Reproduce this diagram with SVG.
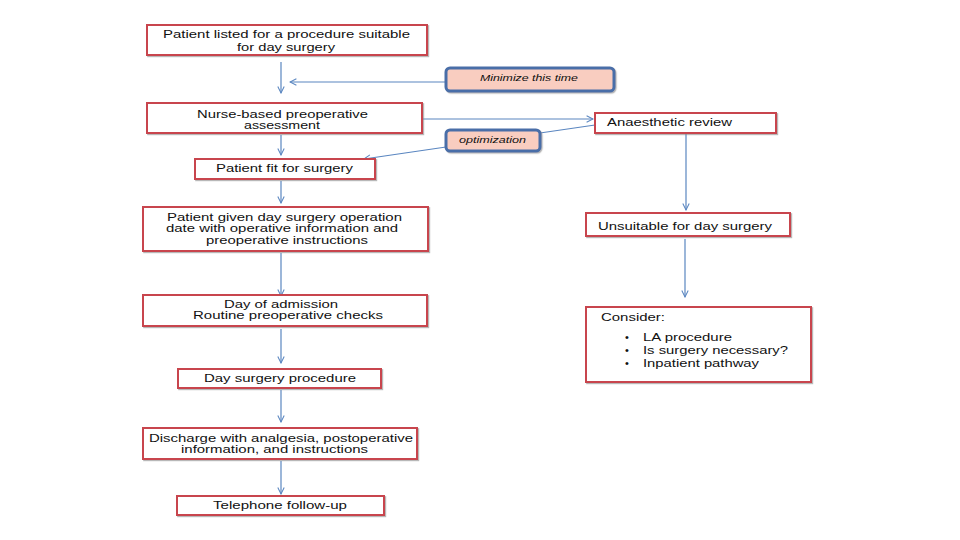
<svg xmlns="http://www.w3.org/2000/svg" width="960" height="540" viewBox="0 0 960 540">
<style>
.box{fill:#fff;stroke:#c8444e;stroke-width:2}
.note{fill:#f9cdc0;stroke:#4a6ea8;stroke-width:3}
.t{font-family:"Liberation Sans",Arial,sans-serif;font-size:11px;fill:#111}
.c{text-anchor:middle}
.i{font-style:italic;font-size:9.5px}
.ln{fill:none;stroke:#5a86c0;stroke-width:1.2}
</style>
<defs>
<marker id="ah" viewBox="0 0 10 10" refX="9" refY="5" markerWidth="8" markerHeight="8" orient="auto" markerUnits="userSpaceOnUse">
<path d="M1,1 L9,5 L1,9" fill="none" stroke="#5a86c0" stroke-width="1.3"/>
</marker>
<filter id="sh" x="-5%" y="-10%" width="110%" height="130%">
<feDropShadow dx="1.2" dy="1.2" stdDeviation="0.6" flood-color="#888" flood-opacity="0.6"/>
</filter>
</defs>
<rect width="960" height="540" fill="#fff"/>
<g id="connectors">
<line class="ln" x1="281" y1="62" x2="281" y2="93" marker-end="url(#ah)"/>
<line class="ln" x1="446" y1="82" x2="290" y2="82" marker-end="url(#ah)"/>
<line class="ln" x1="422" y1="119" x2="593" y2="119" marker-end="url(#ah)"/>
<line class="ln" x1="595" y1="125" x2="540" y2="133"/>
<line class="ln" x1="446" y1="147" x2="364" y2="159" marker-end="url(#ah)"/>
<line class="ln" x1="281" y1="135" x2="281" y2="155" marker-end="url(#ah)"/>
<line class="ln" x1="281" y1="181" x2="281" y2="203" marker-end="url(#ah)"/>
<line class="ln" x1="281" y1="253" x2="281" y2="296" marker-end="url(#ah)"/>
<line class="ln" x1="281" y1="329" x2="281" y2="363" marker-end="url(#ah)"/>
<line class="ln" x1="281" y1="390" x2="281" y2="422" marker-end="url(#ah)"/>
<line class="ln" x1="281" y1="461" x2="281" y2="494" marker-end="url(#ah)"/>
<line class="ln" x1="686" y1="134" x2="686" y2="210" marker-end="url(#ah)"/>
<line class="ln" x1="685" y1="239" x2="685" y2="297" marker-end="url(#ah)"/>
</g>
<g id="n1"><rect class="box" x="147" y="25" width="280" height="30" filter="url(#sh)"/>
<text class="t c" x="286.5" y="38" textLength="247" lengthAdjust="spacingAndGlyphs">Patient listed for a procedure suitable</text>
<text class="t c" x="286" y="51" textLength="98" lengthAdjust="spacingAndGlyphs">for day surgery</text></g>
<g id="minimize"><rect class="note" x="446" y="68" width="168" height="23" rx="4" filter="url(#sh)"/>
<text class="t c i" x="529" y="81" textLength="98" lengthAdjust="spacingAndGlyphs">Minimize this time</text></g>
<g id="n2"><rect class="box" x="147" y="103" width="275" height="30" filter="url(#sh)"/>
<text class="t c" x="282.5" y="118" textLength="171" lengthAdjust="spacingAndGlyphs">Nurse-based preoperative</text>
<text class="t c" x="282" y="129" textLength="76" lengthAdjust="spacingAndGlyphs">assessment</text></g>
<g id="anaesthetic"><rect class="box" x="595" y="113" width="181" height="20" filter="url(#sh)"/>
<text class="t" x="607" y="126" textLength="125" lengthAdjust="spacingAndGlyphs">Anaesthetic review</text></g>
<g id="optimization"><rect class="note" x="446" y="130" width="94" height="21" rx="4" filter="url(#sh)"/>
<text class="t c i" x="492.5" y="143" textLength="67" lengthAdjust="spacingAndGlyphs">optimization</text></g>
<g id="n3"><rect class="box" x="195" y="159" width="180" height="20" filter="url(#sh)"/>
<text class="t c" x="284.5" y="172" textLength="137" lengthAdjust="spacingAndGlyphs">Patient fit for surgery</text></g>
<g id="n4"><rect class="box" x="143" y="207" width="285" height="44" filter="url(#sh)"/>
<text class="t c" x="284.5" y="221" textLength="235" lengthAdjust="spacingAndGlyphs">Patient given day surgery operation</text>
<text class="t c" x="282" y="232" textLength="232" lengthAdjust="spacingAndGlyphs">date with operative information and</text>
<text class="t c" x="287" y="244" textLength="162" lengthAdjust="spacingAndGlyphs">preoperative instructions</text></g>
<g id="n5"><rect class="box" x="143" y="295" width="284" height="31" filter="url(#sh)"/>
<text class="t c" x="281" y="308" textLength="114" lengthAdjust="spacingAndGlyphs">Day of admission</text>
<text class="t c" x="288" y="319" textLength="190" lengthAdjust="spacingAndGlyphs">Routine preoperative checks</text></g>
<g id="n6"><rect class="box" x="178" y="369" width="203" height="19" filter="url(#sh)"/>
<text class="t c" x="280" y="382" textLength="152" lengthAdjust="spacingAndGlyphs">Day surgery procedure</text></g>
<g id="n7"><rect class="box" x="143" y="428" width="274" height="31" filter="url(#sh)"/>
<text class="t c" x="281" y="442" textLength="264" lengthAdjust="spacingAndGlyphs">Discharge with analgesia, postoperative</text>
<text class="t c" x="274.5" y="453" textLength="187" lengthAdjust="spacingAndGlyphs">information, and instructions</text></g>
<g id="n8"><rect class="box" x="177" y="496" width="207" height="19" filter="url(#sh)"/>
<text class="t c" x="280" y="509" textLength="134" lengthAdjust="spacingAndGlyphs">Telephone follow-up</text></g>
<g id="unsuitable"><rect class="box" x="586" y="213" width="204" height="23" filter="url(#sh)"/>
<text class="t" x="598" y="230" textLength="174" lengthAdjust="spacingAndGlyphs">Unsuitable for day surgery</text></g>
<g id="consider"><rect class="box" x="586" y="307" width="225" height="75" filter="url(#sh)"/>
<text class="t" x="601" y="321" textLength="64" lengthAdjust="spacingAndGlyphs">Consider:</text>
<text class="t" x="625" y="341">•</text><text class="t" x="643" y="341" textLength="89" lengthAdjust="spacingAndGlyphs">LA procedure</text>
<text class="t" x="625" y="354">•</text><text class="t" x="643" y="354" textLength="145" lengthAdjust="spacingAndGlyphs">Is surgery necessary?</text>
<text class="t" x="625" y="367">•</text><text class="t" x="643" y="367" textLength="116" lengthAdjust="spacingAndGlyphs">Inpatient pathway</text></g>
</svg>
